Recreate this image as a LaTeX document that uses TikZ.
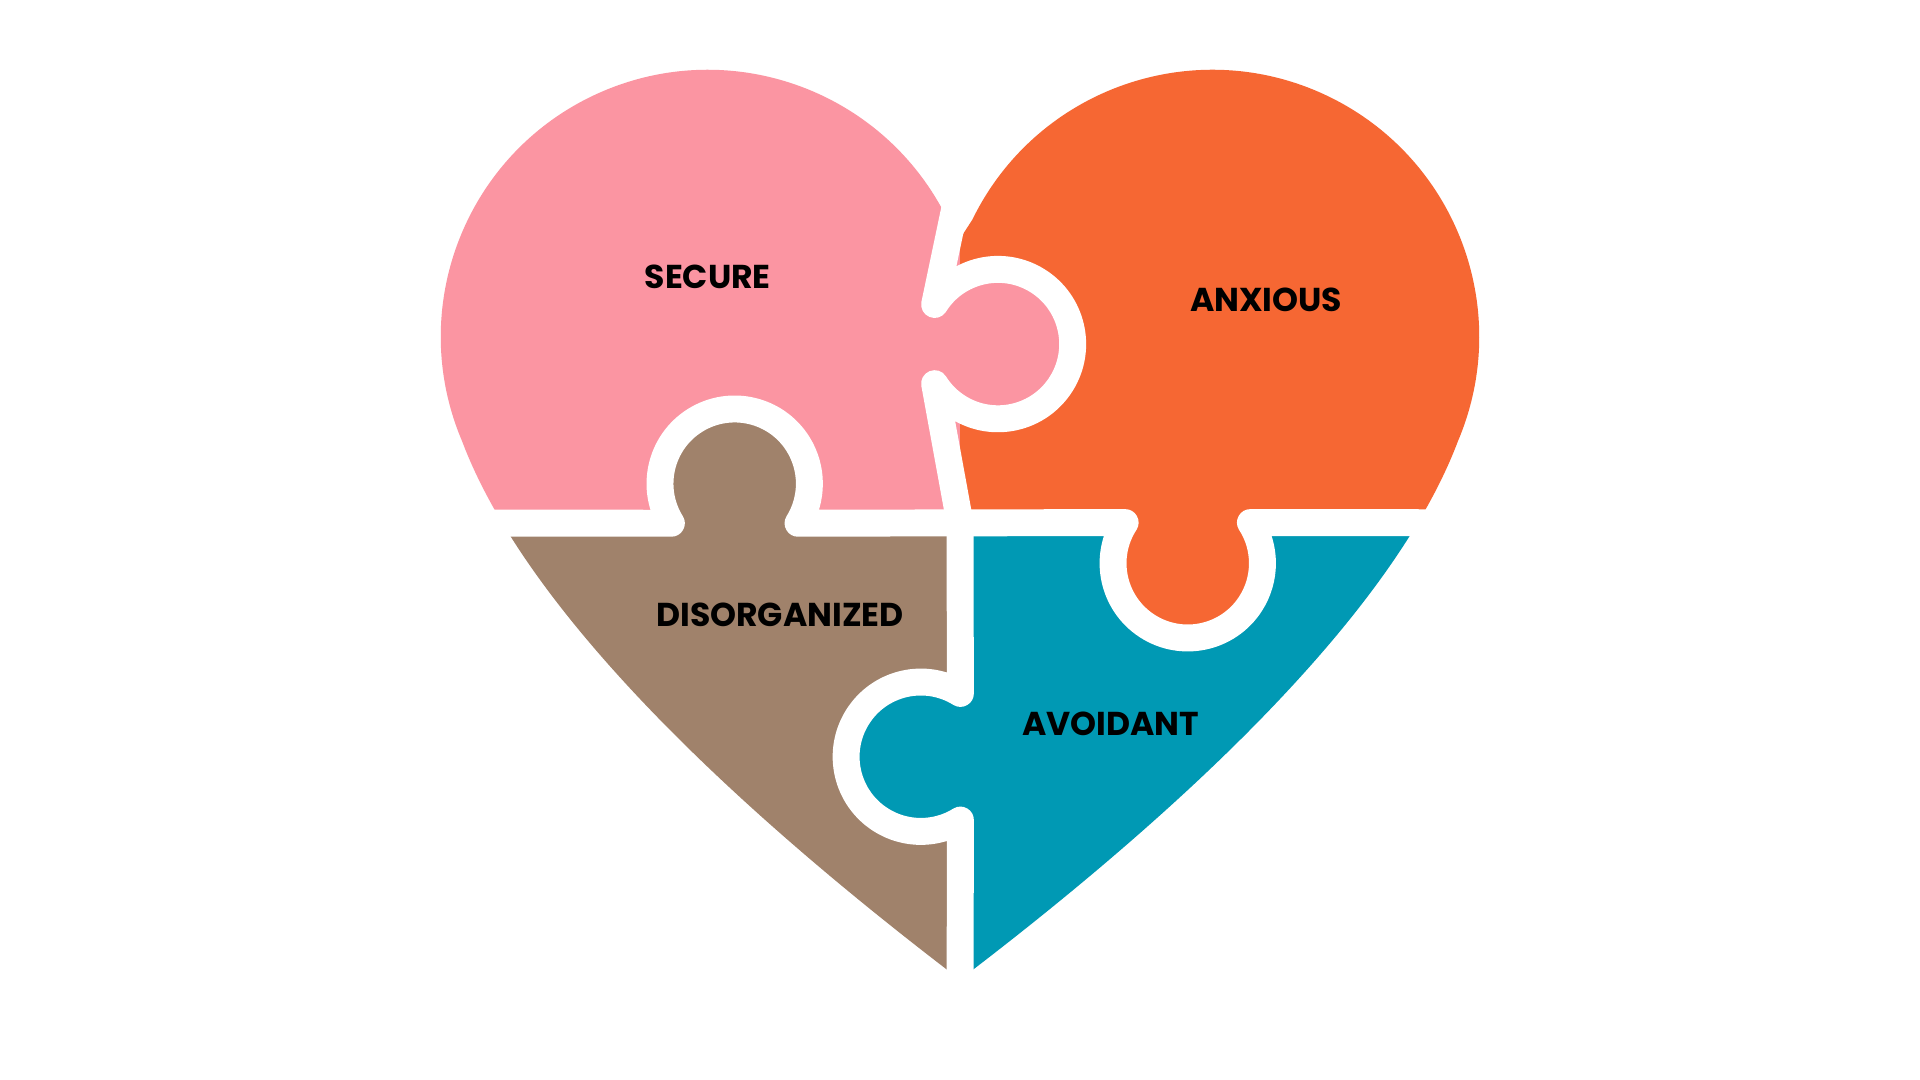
\documentclass[tikz,border=0pt]{standalone}
\usetikzlibrary{calc}
\usepackage{fontspec}
\setmainfont{Poppins}[BoldFont={Poppins Bold}]
\definecolor{cpink}{HTML}{FB95A2}
\definecolor{corange}{HTML}{F66733}
\definecolor{cbrown}{HTML}{A0826B}
\definecolor{cteal}{HTML}{0099B4}
\begin{document}
\begin{tikzpicture}[x=1pt,y=-1pt,
  lbl/.style={font=\bfseries\fontsize{27}{27}\selectfont,text=black},
  cut/.style={draw=white,line width=22pt,line join=round,line cap=round}]
\useasboundingbox[fill=white] (0,0) rectangle (1568,882);
\begin{scope}
\clip (784,800) .. controls (600,660) and (430,500) .. ($(578,275)+(157:218)$)
  arc[start angle=157,end angle=334,radius=218] -- (784,195)
  -- ($(990,275)+(206:218)$) arc[start angle=206,end angle=383,radius=218]
  .. controls (1138,500) and (968,660) .. (784,800) -- cycle;
\fill[cpink] (300,0) rectangle (784,427);
\fill[corange] (784,0) rectangle (1300,427);
\fill[cbrown] (300,427) rectangle (784,900);
\fill[cteal] (784,427) rectangle (1300,900);
\fill[cpink] (815,281) circle[radius=61];
\fill[cbrown] (600,395) circle[radius=61];
\fill[corange] (970,460) circle[radius=61];
\fill[cteal] (752,618) circle[radius=61];
\end{scope}
\path[cut] (784,150) -- ($(815,281)+(212:61)$) arc[start angle=212,end angle=508,radius=61] -- (784,427);
\path[cut] (300,427) -- ($(600,395)+(148:61)$) arc[start angle=148,end angle=392,radius=61] -- (784,427)
  -- ($(970,460)+(213:61)$) arc[start angle=213,end angle=-33,radius=61] -- (1300,427);
\path[cut] (784,427) -- ($(752,618)+(302:61)$) arc[start angle=302,end angle=58,radius=61] -- (784,850);
\node[lbl] (s) at (578,226) {SECURE};
\node[lbl] (a) at (1034,245) {ANXIOUS};
\node[lbl] (d) at (637,502) {DISORGANIZED};
\node[lbl] (v) at (907,591) {AVOIDANT};
\end{tikzpicture}
\end{document}
